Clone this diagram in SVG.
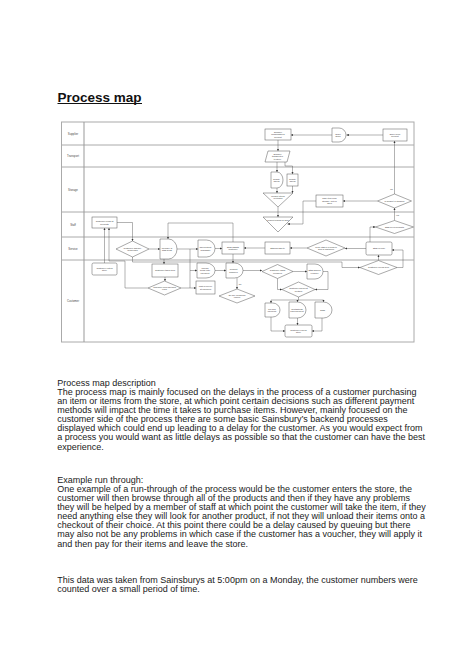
<svg xmlns="http://www.w3.org/2000/svg" width="474" height="670" viewBox="0 0 474 670">
<defs>
<marker id="ah" viewBox="0 0 6 6" refX="6" refY="3" markerWidth="2.3" markerHeight="2.3" orient="auto" markerUnits="userSpaceOnUse"><path d="M0,0 L6,3 L0,6 z" fill="#333"/></marker>
<style>
.body{font-family:"Liberation Sans",Arial,sans-serif;font-size:9px;fill:#1a1a1a}
.title{font-family:"Liberation Sans",Arial,sans-serif;font-size:13.5px;font-weight:bold;fill:#111}
.lane{stroke:#aaa;stroke-width:1;fill:none}
.ll{font-family:"Liberation Sans",Arial,sans-serif;font-size:2.8px;fill:#444;text-anchor:middle}
.s{fill:#fff;stroke:#555;stroke-width:0.5}
.t{font-family:"Liberation Sans",Arial,sans-serif;font-size:2.2px;fill:#333;text-anchor:middle}
.c{fill:none;stroke:#555;stroke-width:0.45}
.ca{fill:none;stroke:#555;stroke-width:0.45;marker-end:url(#ah)}
</style>
</defs>
<rect width="474" height="670" fill="#fff"/>
<text class="title" x="57.5" y="101.7">Process map</text>
<rect x="57.5" y="103" width="84.5" height="1" fill="#111"/>

<g id="swimlanes">
<rect class="lane" x="61.5" y="122" width="352.5" height="220"/>
<path class="lane" d="M61.5,145H414M61.5,167H414M61.5,212H414M61.5,237H414M61.5,260H414"/>
<path d="M84,122V342" stroke="#999" stroke-width="1"/>
<text class="ll" x="73" y="135">Supplier</text>
<text class="ll" x="73" y="157">Transport</text>
<text class="ll" x="73" y="190.5">Storage</text>
<text class="ll" x="73" y="225.5">Staff</text>
<text class="ll" x="73" y="249.5">Service</text>
<text class="ll" x="73" y="302">Customer</text>
</g>

<g id="connectors">
<path class="ca" d="M383,135H346.5"/>
<path class="ca" d="M332,135H291"/>
<path class="ca" d="M278,140V151"/>
<path class="ca" d="M277,162V172"/>
<path class="ca" d="M285,162V166H292.5V174"/>
<path class="ca" d="M277,188V193"/>
<path class="ca" d="M292.5,186V193"/>
<path class="ca" d="M394.5,194V141"/>
<path class="ca" d="M377.5,201H343"/>
<path class="ca" d="M316,201H303V224H287.5"/>
<path class="ca" d="M278,207V217"/>
<path class="ca" d="M394.5,220.5V208"/>
<path class="ca" d="M370,242V227H375.5"/>
<path class="ca" d="M378.5,260.5V255"/>
<path class="ca" d="M397,267.5H403V250H392"/>
<path class="ca" d="M366,248.5H345"/>
<path class="ca" d="M307,248H290"/>
<path class="ca" d="M265,248H244"/>
<path class="ca" d="M233,254V263"/>
<path class="ca" d="M237,278V289"/>
<path class="ca" d="M243,270.5H262"/>
<path class="ca" d="M293,271.5H307"/>
<path class="ca" d="M323,271.5H328V289.5H315"/>
<path class="ca" d="M277.5,278.5V289.5H282"/>
<path class="c" d="M298.5,297V300M271,300H323.5"/>
<path class="ca" d="M271,300V303"/>
<path class="ca" d="M297.5,300V302"/>
<path class="ca" d="M323.5,300V302"/>
<path class="ca" d="M271,317V331H285"/>
<path class="ca" d="M297.5,318V325"/>
<path class="ca" d="M322,318V331H312"/>
<path class="ca" d="M104.5,263V228"/>
<path class="ca" d="M148,288H125V261H109V228"/>
<path class="ca" d="M117,222.5H132.5V241"/>
<path class="ca" d="M149,249H160"/>
<path class="ca" d="M164,259V264"/>
<path class="ca" d="M165,277V281"/>
<path class="ca" d="M132.5,257V262H342V267.5H360"/>
<path class="ca" d="M177,249H198"/>
<path class="c" d="M190,249V288"/>
<path class="ca" d="M190,270.5H197"/>
<path class="ca" d="M181,288H196"/>
<path class="ca" d="M215,248.5H222"/>
<path class="ca" d="M233,242V223H168V239"/>
<path class="ca" d="M215,270.5H226"/>
<text class="t" x="391.5" y="190" style="font-size:2px">No</text>
<text class="t" x="397.5" y="215.5" style="font-size:2px">Yes</text>
<text class="t" x="240" y="285" style="font-size:2px">No</text>
</g>

<g id="n_supplier_make"><rect class="s" x="265" y="129" width="26" height="11"/><text class="t" x="278" y="132.7"><tspan x="278">Supplier</tspan><tspan x="278" dy="2.6">manufactures</tspan><tspan x="278" dy="2.6">product</tspan></text></g>
<g id="n_order_stock"><path class="s" d="M332,128H339A7,7 0 0 1 339,142H332Z"/><text class="t" x="338" y="134.5"><tspan x="338">Order</tspan><tspan x="338" dy="2.6">stock</tspan></text></g>
<g id="n_order_more"><rect class="s" x="383" y="129" width="24" height="12"/><text class="t" x="395" y="134.5"><tspan x="395">Order more</tspan><tspan x="395" dy="2.6">product</tspan></text></g>
<g id="n_transport"><path class="s" d="M268,151H290L287,162H265Z"/><text class="t" x="277.5" y="154.7"><tspan x="277.5">Supplier</tspan><tspan x="277.5" dy="2.6">transported</tspan><tspan x="277.5" dy="2.6">to store</tspan></text></g>
<g id="n_qc1"><path class="s" d="M271,172H277A6,8 0 0 1 277,188H271Z"/><text class="t" x="276.5" y="179.5"><tspan x="276.5">Quality</tspan><tspan x="276.5" dy="2.6">Check</tspan></text></g>
<g id="n_qc2"><rect class="s" x="287" y="174" width="11" height="12"/><text class="t" x="292.5" y="179.5"><tspan x="292.5">Quality</tspan><tspan x="292.5" dy="2.6">Check</tspan></text></g>
<g id="n_stored"><path class="s" d="M263,193H293L278,207Z"/><text class="t" x="278" y="196.5" style="font-size:2.1px"><tspan x="278">Product stored</tspan><tspan x="278" dy="2.5">in storage</tspan></text></g>
<g id="n_take_item"><rect class="s" x="316" y="195" width="27" height="12"/><text class="t" x="329.5" y="199.2"><tspan x="329.5">Take item from</tspan><tspan x="329.5" dy="2.6">storage, put on</tspan><tspan x="329.5" dy="2.6">shelf</tspan></text></g>
<g id="n_in_storage"><path class="s" d="M394.5,194L411.5,201L394.5,208L377.5,201Z"/><text class="t" x="394.5" y="201.8" style="font-size:2.1px">Is product in storage?</text></g>
<g id="n_looks"><rect class="s" x="92" y="217" width="25" height="11"/><text class="t" x="104.5" y="222"><tspan x="104.5">Customer looks at</tspan><tspan x="104.5" dy="2.6">products</tspan></text></g>
<g id="n_placed"><path class="s" d="M263,217H293L278,232Z"/><text class="t" x="278" y="221.3" style="font-size:2.1px">Product placed on shelf</text></g>
<g id="n_staff_need"><path class="s" d="M394.5,220.5L413.5,227L394.5,233.5L375.5,227Z"/><text class="t" x="394.5" y="227.8">Staff need product?</text></g>
<g id="n_problems"><path class="s" d="M132.5,241L149,249L132.5,257L116,249Z"/><text class="t" x="132.5" y="248.5"><tspan x="132.5">Customer has any</tspan><tspan x="132.5" dy="2.6">problems?</tspan></text></g>
<g id="n_helps"><path class="s" d="M160,239H168.5A8.5,10 0 0 1 168.5,259H160Z"/><text class="t" x="167" y="248.5"><tspan x="167">Member of</tspan><tspan x="167" dy="2.6">staff helps</tspan></text></g>
<g id="n_check"><path class="s" d="M198,240H206.5A8.5,8.5 0 0 1 206.5,257H198Z"/><text class="t" x="205.5" y="248"><tspan x="205.5">Check stock</tspan><tspan x="205.5" dy="2.6">availability</tspan></text></g>
<g id="n_assists"><rect class="s" x="222" y="242" width="22" height="12"/><text class="t" x="233" y="247.5"><tspan x="233">Staff assists</tspan><tspan x="233" dy="2.6">customer</tspan></text></g>
<g id="n_speaks"><rect class="s" x="265" y="242" width="25" height="12"/><text class="t" x="277.5" y="248.8">Staff speaks to</text></g>
<g id="n_close"><path class="s" d="M326,240L345,248L326,256L307,248Z"/><text class="t" x="326" y="247.5" style="font-size:2px"><tspan x="326">Is any staff in or close to</tspan><tspan x="326" dy="2.5">area of customer?</tspan></text></g>
<g id="n_on_duty"><rect class="s" x="366" y="242" width="26" height="13" rx="1.5"/><text class="t" x="379" y="249.3">Staff on duty</text></g>
<g id="n_enters"><rect class="s" x="92" y="263" width="25" height="12" rx="1.5"/><text class="t" x="104.5" y="268.5"><tspan x="104.5">Customer enters</tspan><tspan x="104.5" dy="2.6">store</tspan></text></g>
<g id="n_takes"><rect class="s" x="152" y="264" width="26" height="13"/><text class="t" x="165" y="271.3">Customer takes item</text></g>
<g id="n_else"><path class="s" d="M164.5,281L181,288L164.5,295L148,288Z"/><text class="t" x="164.5" y="287.5" style="font-size:2.1px"><tspan x="164.5">Customer need anything</tspan><tspan x="164.5" dy="2.5">else?</tspan></text></g>
<g id="n_unload"><path class="s" d="M197,263H206A9,7.5 0 0 1 206,278H197Z"/><text class="t" x="205" y="268.7"><tspan x="205">Unload</tspan><tspan x="205" dy="2.6">items onto</tspan><tspan x="205" dy="2.6">checkout</tspan></text></g>
<g id="n_queue"><rect class="s" x="196" y="281" width="19" height="13"/><text class="t" x="205.5" y="287"><tspan x="205.5">Wait in queue</tspan><tspan x="205.5" dy="2.6">at checkout</tspan></text></g>
<g id="n_scan"><path class="s" d="M226,263H234.5A8.5,7.5 0 0 1 234.5,278H226Z"/><text class="t" x="233.5" y="270"><tspan x="233.5">Product</tspan><tspan x="233.5" dy="2.6">scanned</tspan></text></g>
<g id="n_problems2"><path class="s" d="M237,289L255,296L237,303L219,296Z"/><text class="t" x="237" y="295.5"><tspan x="237">Do any problems</tspan><tspan x="237" dy="2.6">occur?</tspan></text></g>
<g id="n_voucher"><path class="s" d="M277.5,264.5L293,271.5L277.5,278.5L262,271.5Z"/><text class="t" x="277.5" y="271"><tspan x="277.5">Customer using</tspan><tspan x="277.5" dy="2.6">voucher?</tspan></text></g>
<g id="n_applies"><path class="s" d="M307,264H315A8,7.5 0 0 1 315,279H307Z"/><text class="t" x="314.5" y="271"><tspan x="314.5">Staff applies</tspan><tspan x="314.5" dy="2.6">voucher</tspan></text></g>
<g id="n_method"><path class="s" d="M298.5,282L315,289.5L298.5,297L282,289.5Z"/><text class="t" x="298.5" y="289"><tspan x="298.5">Customer payment</tspan><tspan x="298.5" dy="2.6">method</tspan></text></g>
<g id="n_pin"><path class="s" d="M265,303H272.5A7.5,7 0 0 1 272.5,317H265Z"/><text class="t" x="272" y="309.5"><tspan x="272">Pin and</tspan><tspan x="272" dy="2.6">payment</tspan></text></g>
<g id="n_contactless"><path class="s" d="M289,302H297.5A8.5,8 0 0 1 297.5,318H289Z"/><text class="t" x="297" y="309.5"><tspan x="297">Contactless</tspan><tspan x="297" dy="2.6">card payment</tspan></text></g>
<g id="n_cash"><path class="s" d="M315,302H323.5A8.5,8 0 0 1 323.5,318H315Z"/><text class="t" x="322.5" y="310.8">Cash</text></g>
<g id="n_leaves"><rect class="s" x="285" y="325" width="27" height="12" rx="1.5"/><text class="t" x="298.5" y="330.5"><tspan x="298.5">Customer leaves</tspan><tspan x="298.5" dy="2.6">store</tspan></text></g>
<g id="n_needs_help"><path class="s" d="M378.5,260.5L397,267.5L378.5,274.5L360,267.5Z"/><text class="t" x="378.5" y="268.3">Customer needs help</text></g>

<g id="text">
<text class="body" x="57.3" y="385.5">Process map description</text>
<text class="body" x="57.3" y="394.65">The process map is mainly focused on the delays in the process of a customer purchasing</text>
<text class="body" x="57.3" y="403.8">an item or items from the store, at which point certain decisions such as different payment</text>
<text class="body" x="57.3" y="412.95">methods will impact the time it takes to purchase items. However, mainly focused on the</text>
<text class="body" x="57.3" y="422.1">customer side of the process there are some basic Sainsbury’s backend processes</text>
<text class="body" x="57.3" y="431.25">displayed which could end up leading to a delay for the customer. As you would expect from</text>
<text class="body" x="57.3" y="440.4">a process you would want as little delays as possible so that the customer can have the best</text>
<text class="body" x="57.3" y="449.55">experience.</text>
<text class="body" x="57.3" y="482.5">Example run through:</text>
<text class="body" x="57.3" y="491.65">One example of a run-through of the process would be the customer enters the store, the</text>
<text class="body" x="57.3" y="500.8">customer will then browse through all of the products and then if they have any problems</text>
<text class="body" x="57.3" y="509.95">they will be helped by a member of staff at which point the customer will take the item, if they</text>
<text class="body" x="57.3" y="519.1">need anything else they will look for another product, if not they will unload their items onto a</text>
<text class="body" x="57.3" y="528.25">checkout of their choice. At this point there could be a delay caused by queuing but there</text>
<text class="body" x="57.3" y="537.4">may also not be any problems in which case if the customer has a voucher, they will apply it</text>
<text class="body" x="57.3" y="546.55">and then pay for their items and leave the store.</text>
<text class="body" x="57.3" y="582.5">This data was taken from Sainsburys at 5:00pm on a Monday, the customer numbers were</text>
<text class="body" x="57.3" y="591.65">counted over a small period of time.</text>
</g>
</svg>
